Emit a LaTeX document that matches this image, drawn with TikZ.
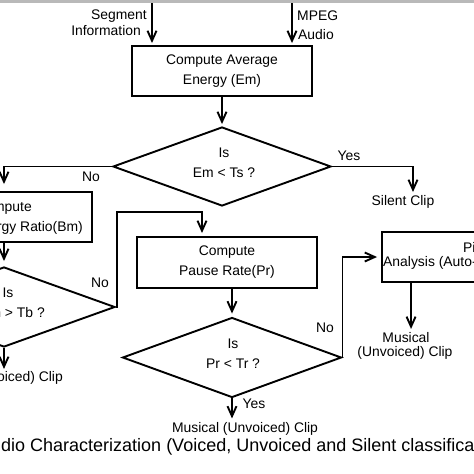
\documentclass[tikz,border=0pt]{standalone}
\usepackage{fontspec}
\setmainfont{Liberation Sans}
\usetikzlibrary{shapes.geometric,arrows.meta}
\begin{document}
\begin{tikzpicture}[x=1pt,y=-1pt,
  lbl/.style={font=\fontsize{13.9}{20}\selectfont, inner sep=0pt, align=center},
  box/.style={draw, line width=1.9pt, minimum width=180pt, minimum height=50pt, inner sep=0pt, font=\fontsize{13.9}{20}\selectfont, align=center},
  dia/.style={draw, diamond, line width=1.9pt, inner sep=0pt},
  arr/.style={line width=1.9pt, -{Straight Barb[length=10pt,width=9pt,line width=1.9pt]}}]
\useasboundingbox (0,0) rectangle (474,474);
\clip (0,0) rectangle (474,474);
\fill[gray!55] (0,0) rectangle (474,2.5);

% top inputs
\coordinate (sg) at (152,3);
\coordinate (mp) at (292,3);
\node[lbl, anchor=east] (tseg) at (147,16) {Segment};
\node[lbl, anchor=east] (tinf) at (141,31) {Information};
\node[lbl, anchor=west] (tmpeg) at (297,16) {MPEG};
\node[lbl, anchor=west] (taud) at (298,35) {Audio};

\node[box] (b1) at (222,71) {Compute Average\\Energy (Em)};
\draw[arr, shorten >=2pt] (sg) -- (sg |- b1.north);
\draw[arr, shorten >=2pt] (mp) -- (mp |- b1.north);

\node[dia, minimum width=218pt, minimum height=79pt] (d1) at (222,166.5) {};
\node[lbl] (td1) at (224,162.5) {Is\\Em < Ts ?};
\draw[arr, shorten >=2pt] (b1.south) -- (d1.north);

% yes -> silent
\coordinate (sil) at (413,192);
\draw[arr] (d1.east) -| (sil);
\node[lbl] (yes1) at (349,156) {Yes};
\node[lbl] (tsil) at (403,202) {Silent Clip};

% no -> energy ratio
\node[box, minimum width=176pt] (b2) at (4,217) {};
\node[lbl, anchor=east] (tb2a) at (32,208) {Compute};
\node[lbl, anchor=east] (tb2b) at (83,228) {Energy Ratio(Bm)};
\draw[arr, shorten >=7pt] (d1.west) -| (b2.north);
\node[lbl] (no1) at (91,177) {No};

\node[dia, minimum width=222pt, minimum height=80pt] (d2) at (4,307) {};
\node[lbl] (td2a) at (8,293) {Is};
\node[lbl, anchor=east] (td2b) at (45,313) {Bm > Tb ?};
\draw[arr, shorten >=5pt] (b2.south) -- (d2.north);
\draw[arr] (d2.south) -- ++(0,21);
\node[lbl, anchor=east] (tvc) at (63,378) {(Voiced) Clip};

% no -> pause rate
\node[box, minimum height=51pt] (b3) at (227,262.5) {Compute\\Pause Rate(Pr)};
\coordinate (b3in) at (202,233);
\draw[arr] (d2.east) -| (117,212) -| (b3in);
\node[lbl] (no2) at (100,283) {No};

\node[dia, minimum width=219pt, minimum height=80pt] (d3) at (232,357.5) {};
\node[lbl] (td3) at (233,353.5) {Is\\Pr < Tr ?};
\draw[arr, shorten >=3pt] (b3.south -| d3.north) -- (d3.north);
\draw[arr] (d3.south) -- ++(0,20);
\node[lbl] (yes3) at (254,404) {Yes};
\node[lbl] (tmu1) at (245,429) {Musical (Unvoiced) Clip};

% no -> pitch
\node[box] (b4) at (472,257) {};
\node[lbl, anchor=west] (tb4a) at (463,248) {Pitch};
\node[lbl, anchor=west] (tb4b) at (383,263) {Analysis (Auto-correlation)};
\draw[arr, shorten >=4pt] (d3.east) |- (b4.west);
\node[lbl] (no3) at (325,328) {No};
\draw[arr] ([xshift=30pt]b4.south west) -- ++(0,46);
\node[lbl] (tmu2a) at (406,338) {Musical};
\node[lbl] (tmu2b) at (405,353) {(Unvoiced) Clip};

% caption
\node[font=\fontsize{18}{20}\selectfont, anchor=west, inner sep=0pt] (cap) at (-21,447) {Audio Characterization (Voiced, Unvoiced and Silent classification)};
\end{tikzpicture}
\end{document}
